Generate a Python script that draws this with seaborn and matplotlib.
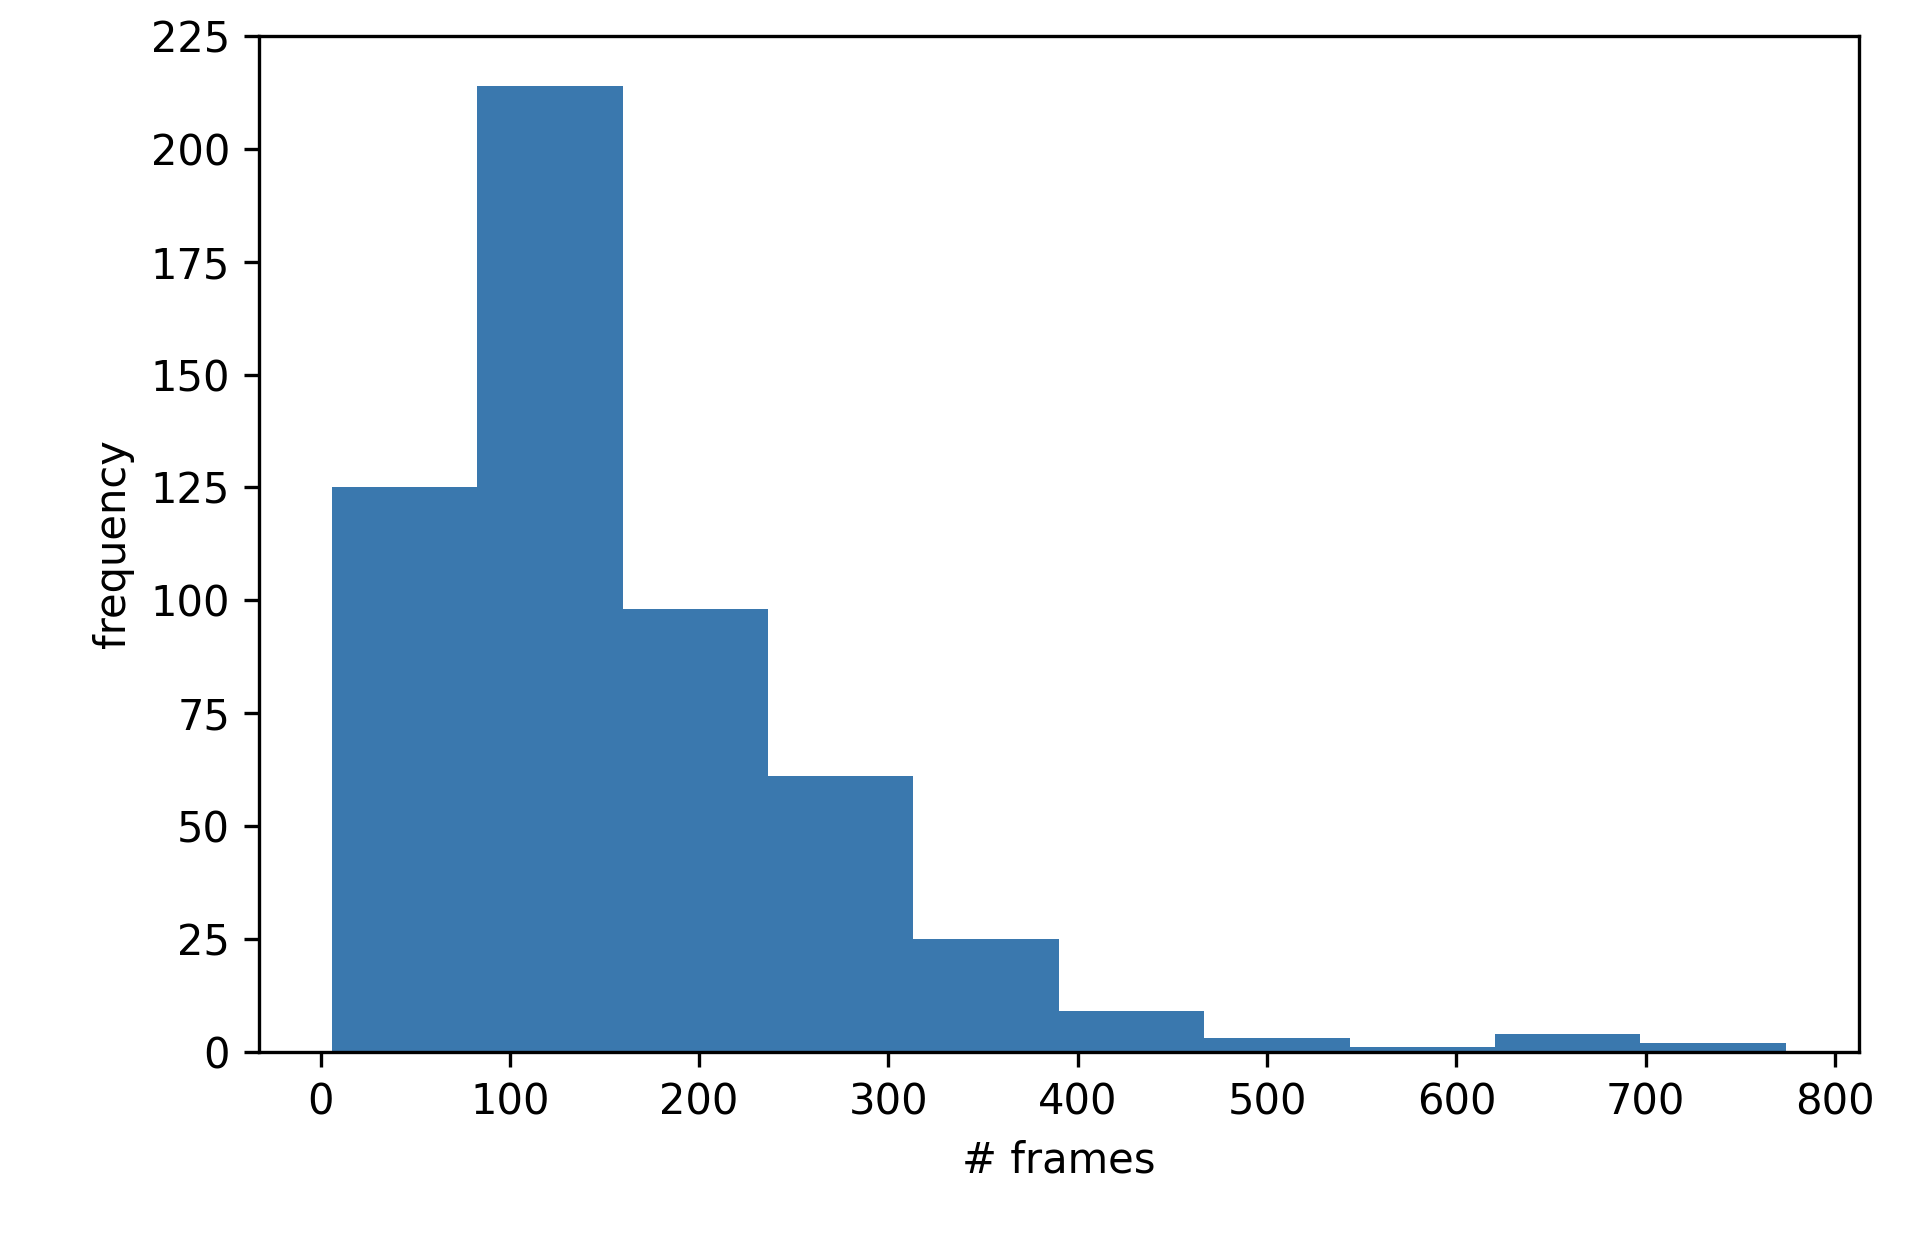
import matplotlib
matplotlib.use("Agg")
import matplotlib.pyplot as plt
import seaborn as sns
import numpy as np

bin_edges = [6.0, 82.8, 159.6, 236.4, 313.2, 390.0, 466.8, 543.6, 620.4, 697.2, 774.0]
counts = [125, 214, 98, 61, 25, 9, 3, 1, 4, 2]

centers = [(a + b) / 2 for a, b in zip(bin_edges[:-1], bin_edges[1:])]

fig, ax = plt.subplots(figsize=(6.4, 4.12), dpi=300)
fig.subplots_adjust(left=0.135, right=0.968, top=0.971, bottom=0.149)
sns.histplot(x=centers, weights=counts, bins=bin_edges, color="#3a78ae",
             alpha=1, edgecolor="none", linewidth=0, ax=ax)
ax.set_xlabel("# frames")
ax.set_ylabel("frequency")
ax.set_xticks([0, 100, 200, 300, 400, 500, 600, 700, 800])
ax.set_ylim(0, 225)
fig.savefig("out.png", dpi=300)
